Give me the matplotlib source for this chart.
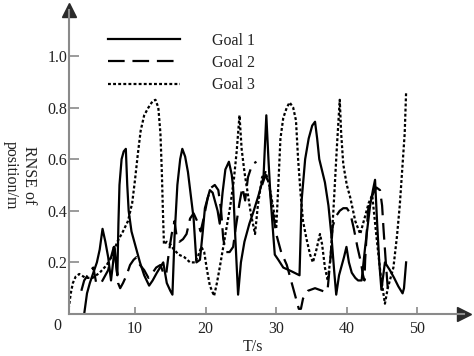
import numpy as np
import matplotlib
matplotlib.use('Agg')
import matplotlib.pyplot as plt

plt.rcParams['font.family'] = ['Liberation Serif', 'DejaVu Serif']

# values
goal1_t = [2.8, 3.2, 3.6, 4.6, 5.0, 5.4, 5.8, 6.2, 6.6, 6.9, 7.1, 7.3, 7.5, 7.65, 7.8, 8.1, 8.4, 8.7,
           8.9, 9.1, 9.5, 10.0, 10.7, 11.3, 12.0, 12.5, 13.1, 14.0, 14.5, 15.0, 15.3, 15.6, 16.0, 16.4,
           16.7, 17.1, 17.5, 17.9, 18.3, 18.7, 19.2, 19.6, 19.9, 20.6, 21.0, 21.3, 21.7, 22.0, 22.4,
           22.8, 23.3, 23.7, 23.9, 24.2, 24.6, 25.0, 25.5, 26.2, 26.7, 27.5, 28.2, 28.6, 28.9, 29.2,
           29.6, 29.8, 30.3, 31.0, 32.2, 33.3, 33.6, 34.1, 34.6, 35.1, 35.5, 35.8, 36.1, 36.9, 37.4,
           37.8, 38.2, 38.5, 38.9, 39.2, 39.6, 39.95, 40.3, 40.7, 41.2, 41.6, 42.1, 42.6, 43.3, 43.7,
           44.0, 44.3, 44.6, 44.9, 45.4, 46.1, 46.7, 47.3, 47.9, 48.1, 48.4]
goal1_e = [0.0, 0.08, 0.12, 0.2, 0.25, 0.33, 0.28, 0.22, 0.13, 0.2, 0.26, 0.2, 0.15, 0.35, 0.5, 0.6, 0.63, 0.64,
           0.5, 0.4, 0.32, 0.27, 0.2, 0.15, 0.11, 0.13, 0.16, 0.2, 0.12, 0.09, 0.075, 0.3, 0.5, 0.6,
           0.64, 0.61, 0.55, 0.46, 0.37, 0.2, 0.21, 0.32, 0.41, 0.48, 0.47, 0.44, 0.4, 0.35, 0.47,
           0.56, 0.59, 0.54, 0.49, 0.3, 0.075, 0.2, 0.28, 0.35, 0.39, 0.46, 0.53, 0.77, 0.6, 0.45,
           0.3, 0.23, 0.21, 0.18, 0.165, 0.15, 0.44, 0.6, 0.68, 0.73, 0.745, 0.68, 0.6, 0.51, 0.42,
           0.31, 0.17, 0.075, 0.15, 0.18, 0.22, 0.26, 0.2, 0.16, 0.14, 0.13, 0.13, 0.26, 0.42, 0.48,
           0.52, 0.35, 0.2, 0.094, 0.2, 0.17, 0.14, 0.107, 0.08, 0.1, 0.2]

goal2_t = [2.4, 2.8, 3.3, 3.7, 4.1, 4.5, 5.2, 5.6, 6.2, 6.6, 7.0, 7.3, 7.6, 7.9, 8.3, 8.8, 9.3, 9.8,
           10.2, 10.7, 11.3, 11.9, 12.5, 13.0, 13.6, 14.0, 14.4, 14.8, 15.2, 15.6, 15.9, 16.3, 16.8,
           17.3, 17.8, 18.3, 18.8, 19.3, 19.8, 20.3, 20.8, 21.3, 21.8, 22.2, 22.5, 22.9, 23.4, 23.9,
           24.3, 24.8, 25.2, 25.6, 26.0, 26.6, 27.2, np.nan, 28.0, 28.5, 29.0, 29.5, 30.0, 30.7, 31.5,
           32.2, 32.7, 33.2, 33.5, 33.8, 34.5, 35.5, 36.5, 37.0, 37.3, 37.7, 38.0, 38.5, 39.0, 39.5,
           40.0, 40.5, 41.0, 41.5, 42.0, 42.3, 42.5, 42.6, 43.0, 43.3, 43.8, 44.2, 44.7, 45.0, 45.2,
           45.5, 45.8, 46.0]
goal2_e = [0.09, 0.13, 0.15, 0.17, 0.18, 0.12, 0.12, 0.14, 0.17, 0.22, 0.26, 0.2, 0.12, 0.1, 0.12, 0.15, 0.19, 0.21,
           0.22, 0.19, 0.17, 0.14, 0.16, 0.18, 0.19, 0.16, 0.15, 0.24, 0.31, 0.36, 0.3, 0.28, 0.29,
           0.31, 0.37, 0.39, 0.36, 0.32, 0.38, 0.45, 0.49, 0.5, 0.48, 0.4, 0.29, 0.24, 0.24, 0.26,
           0.34, 0.43, 0.49, 0.44, 0.53, 0.58, 0.59, np.nan, 0.5, 0.54, 0.5, 0.4, 0.31, 0.24, 0.19,
           0.12, 0.07, 0.02, 0.02, 0.06, 0.09, 0.1, 0.09, 0.085, 0.1, 0.22, 0.34, 0.38, 0.4, 0.41,
           0.41, 0.39, 0.33, 0.26, 0.2, 0.15, 0.13, 0.21, 0.4, 0.44, 0.47, 0.49, 0.48, 0.42, 0.33,
           0.21, 0.1, 0.07]

goal3_t = [0.6, 0.9, 1.2, 1.6, 2.1, 3.0, 4.0, 5.0, 6.0, 6.8, 7.5, 8.3, 9.0, 9.6, 10.0, 10.4, 10.8, 11.3,
           11.9, 12.5, 12.9, 13.3, 13.6, 13.8, 13.95, 14.1, 14.5, 15.0, 15.5, 16.2, 17.0, 17.8, 18.5,
           19.0, 19.4, 19.8, 20.2, 20.6, 21.2, 21.6, 22.0, 22.5, 23.0, 23.5, 24.0, 24.4, 24.8, 25.1,
           25.5, 25.9, 26.4, 27.0, 27.4, 28.0, 28.5, 29.0, 29.6, 30.0, 30.3, 30.6, 31.0, 31.5, 31.9,
           32.4, 32.8, 33.1, 33.5, 33.8, 34.3, 34.8, 35.2, 35.7, 36.2, 36.5, 36.9, 37.3, 37.7, 38.1,
           38.6, 39.0, 39.2, 39.5, 40.0, 40.5, 41.2, 41.9, 42.5, 43.1, 43.6, 44.2, 44.8, 45.4, 45.8,
           46.6, 47.1, 47.5, 47.9, 48.2, 48.4]
goal3_e = [0.02, 0.08, 0.12, 0.145, 0.155, 0.14, 0.14, 0.16, 0.19, 0.23, 0.28, 0.32, 0.36, 0.43, 0.52, 0.62, 0.71, 0.77,
           0.8, 0.825, 0.83, 0.8, 0.7, 0.55, 0.4, 0.27, 0.28, 0.27, 0.25, 0.23, 0.22, 0.2, 0.2,
           0.23, 0.26, 0.24, 0.17, 0.11, 0.07, 0.12, 0.18, 0.26, 0.34, 0.42, 0.52, 0.63, 0.77, 0.64,
           0.55, 0.48, 0.39, 0.31, 0.42, 0.53, 0.55, 0.5, 0.41, 0.33, 0.5, 0.68, 0.76, 0.8, 0.82,
           0.8, 0.75, 0.6, 0.45, 0.36, 0.29, 0.23, 0.2, 0.25, 0.31, 0.27, 0.18, 0.13, 0.22, 0.4,
           0.65, 0.83, 0.7, 0.58, 0.5, 0.45, 0.36, 0.31, 0.37, 0.43, 0.46, 0.3, 0.15, 0.04, 0.1,
           0.18, 0.3, 0.42, 0.58, 0.7, 0.86]

x_ticks = [10, 20, 30, 40, 50]
y_ticks = [0.2, 0.4, 0.6, 0.8, 1.0]
labels = ['Goal 1', 'Goal 2', 'Goal 3']

W, H = 474, 356
fig = plt.figure(figsize=(W / 100, H / 100), dpi=100)
# axes box in pixels: left 69, right 464, bottom 314, top 10
ax = fig.add_axes([69 / W, (H - 314) / H, (464 - 69) / W, (314 - 10) / H])
ax.set_xlim(0.65, 56.6)
ax.set_ylim(0, 1.178)

lw = 1.6
ax.plot(goal1_t, goal1_e, color='black', lw=lw, label=labels[0])
ax.plot(goal2_t, goal2_e, color='black', lw=lw, ls=(0, (7.5, 3.5)), label=labels[1])
ax.plot(goal3_t, goal3_e, color='black', lw=lw, ls=(0, (1.3, 1.0)), label=labels[2])

axis_c = '#8a8a8a'
txt_c = '#222222'
for s in ['top', 'right']:
    ax.spines[s].set_visible(False)
for s in ['left', 'bottom']:
    ax.spines[s].set_color(axis_c)
    ax.spines[s].set_linewidth(1.5)
# arrow heads
ax.plot(1, 0, marker='>', ms=10, color='#2a2a2a', transform=ax.transAxes, clip_on=False)
ax.plot(0, 1, marker='^', ms=10, color='#2a2a2a', transform=ax.transAxes, clip_on=False)

ax.set_xticks(x_ticks)
ax.set_xticklabels([str(v) for v in x_ticks])
ax.set_yticks(y_ticks)
ax.set_yticklabels(['%.1f' % v for v in y_ticks])
ax.tick_params(axis='both', direction='in', color=axis_c, width=1.2, labelsize=11.5, labelcolor=txt_c)
ax.tick_params(axis='x', length=5, pad=5)
ax.tick_params(axis='y', length=7, pad=1)
ax.text(-0.03, -0.012, '0', transform=ax.transAxes, ha='center', va='top', fontsize=11.5, color=txt_c)

ax.set_xlabel('T/s', fontsize=11.5, color=txt_c)
ax.xaxis.set_label_coords((253 - 69) / 395, -0.082)
fig.text(20 / W, 1 - 175 / H, 'RNSE of\nposition/m', rotation=270, ha='center', va='center',
         multialignment='center', fontsize=11.5, color=txt_c)

ax.legend(loc='upper left', bbox_to_anchor=(108 / W, 1 - 33 / H), bbox_transform=fig.transFigure,
          frameon=False, fontsize=11.5, handlelength=4.5, handletextpad=2.0, labelspacing=0.38,
          borderpad=0, borderaxespad=0, labelcolor=txt_c)

fig.savefig('out.png', dpi=100)
